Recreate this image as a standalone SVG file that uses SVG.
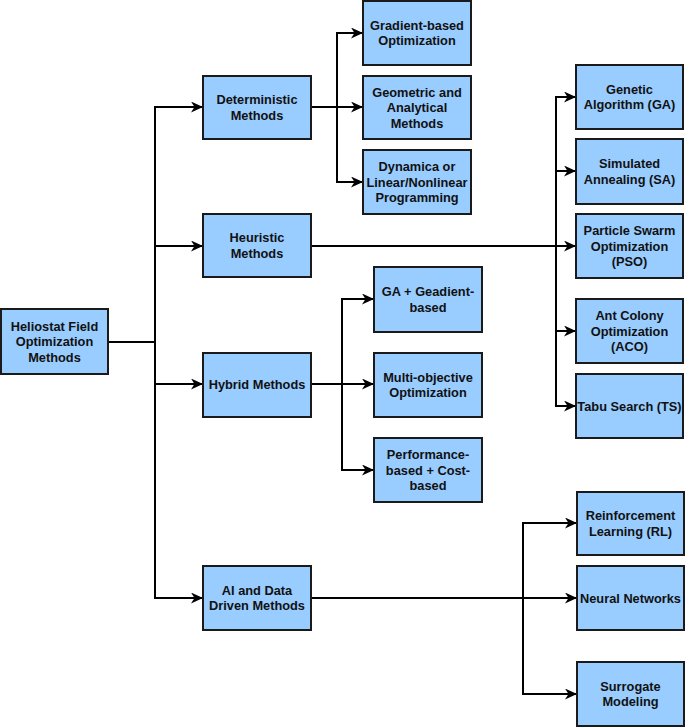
<svg xmlns="http://www.w3.org/2000/svg" width="685" height="727" viewBox="0 0 685 727">
<style>
.n rect{fill:#99ccff;stroke:#1a1a1a;stroke-width:2}
.n text{font-family:"Liberation Sans",Arial,sans-serif;font-weight:bold;font-size:12.8px;fill:#111;text-anchor:middle}
.c path{fill:none;stroke:#000;stroke-width:2;marker-end:url(#ah)}
</style>
<defs>
<marker id="ah" markerUnits="userSpaceOnUse" markerWidth="12" markerHeight="11" refX="12" refY="5.5" orient="auto">
<path d="M0,0 L12,5.5 L0,11 L3.5,5.5 Z" fill="#000"/>
</marker>
</defs>
<rect width="685" height="727" fill="#fff"/>
<g class="c" id="connectors">
<path d="M108,342 H155 V107 H203"/>
<path d="M108,342 H155 V246 H203"/>
<path d="M108,342 H155 V384 H203"/>
<path d="M108,342 H155 V598 H203"/>
<path d="M311,107 H337 V33 H363"/>
<path d="M311,107 H363"/>
<path d="M311,107 H337 V182 H363"/>
<path d="M311,246 H556 V97 H576"/>
<path d="M311,246 H556 V171 H576"/>
<path d="M311,246 H576"/>
<path d="M311,246 H556 V331 H576"/>
<path d="M311,246 H556 V406 H576"/>
<path d="M311,384 H342 V299 H374"/>
<path d="M311,384 H374"/>
<path d="M311,384 H342 V470 H374"/>
<path d="M311,598 H523 V523 H577"/>
<path d="M311,598 H577"/>
<path d="M311,598 H523 V694 H577"/>
</g>
<g class="n" id="root"><rect x="1" y="309" width="107" height="65"/><text x="54.5" y="330.5">Heliostat Field</text><text x="54.5" y="346">Optimization</text><text x="54.5" y="361.5">Methods</text></g>
<g class="n" id="deterministic"><rect x="203" y="76" width="108" height="63"/><text x="257" y="104.25">Deterministic</text><text x="257" y="119.75">Methods</text></g>
<g class="n" id="heuristic"><rect x="203" y="214" width="108" height="63"/><text x="257" y="242.25">Heuristic</text><text x="257" y="257.75">Methods</text></g>
<g class="n" id="hybrid"><rect x="203" y="353" width="108" height="64"/><text x="257" y="389">Hybrid Methods</text></g>
<g class="n" id="ai"><rect x="203" y="566" width="108" height="64"/><text x="257" y="594.75">AI and Data</text><text x="257" y="610.25">Driven Methods</text></g>
<g class="n" id="gradient"><rect x="363" y="1" width="108" height="64"/><text x="417" y="29.75">Gradient-based</text><text x="417" y="45.25">Optimization</text></g>
<g class="n" id="geometric"><rect x="363" y="76" width="108" height="63"/><text x="417" y="96.5">Geometric and</text><text x="417" y="112">Analytical</text><text x="417" y="127.5">Methods</text></g>
<g class="n" id="dynamica"><rect x="363" y="150" width="108" height="64"/><text x="417" y="171">Dynamica or</text><text x="417" y="186.5">Linear/Nonlinear</text><text x="417" y="202">Programming</text></g>
<g class="n" id="ga"><rect x="576" y="65" width="107" height="64"/><text x="629.5" y="93.75">Genetic</text><text x="629.5" y="109.25">Algorithm (GA)</text></g>
<g class="n" id="sa"><rect x="576" y="139" width="107" height="65"/><text x="629.5" y="168.25">Simulated</text><text x="629.5" y="183.75">Annealing (SA)</text></g>
<g class="n" id="pso"><rect x="576" y="214" width="107" height="64"/><text x="629.5" y="235">Particle Swarm</text><text x="629.5" y="250.5">Optimization</text><text x="629.5" y="266">(PSO)</text></g>
<g class="n" id="aco"><rect x="576" y="299" width="107" height="64"/><text x="629.5" y="320">Ant Colony</text><text x="629.5" y="335.5">Optimization</text><text x="629.5" y="351">(ACO)</text></g>
<g class="n" id="ts"><rect x="576" y="374" width="107" height="64"/><text x="629.5" y="410.5">Tabu Search (TS)</text></g>
<g class="n" id="gag"><rect x="374" y="267" width="108" height="65"/><text x="428" y="296.25">GA + Geadient-</text><text x="428" y="311.75">based</text></g>
<g class="n" id="multi"><rect x="374" y="353" width="108" height="64"/><text x="428" y="381.75">Multi-objective</text><text x="428" y="397.25">Optimization</text></g>
<g class="n" id="perf"><rect x="374" y="438" width="108" height="64"/><text x="428" y="459">Performance-</text><text x="428" y="474.5">based + Cost-</text><text x="428" y="490">based</text></g>
<g class="n" id="rl"><rect x="577" y="492" width="107" height="63"/><text x="630.5" y="520.25">Reinforcement</text><text x="630.5" y="535.75">Learning (RL)</text></g>
<g class="n" id="nn"><rect x="577" y="566" width="107" height="64"/><text x="630.5" y="602.5">Neural Networks</text></g>
<g class="n" id="surrogate"><rect x="577" y="662" width="107" height="64"/><text x="630.5" y="690.75">Surrogate</text><text x="630.5" y="706.25">Modeling</text></g>
</svg>
